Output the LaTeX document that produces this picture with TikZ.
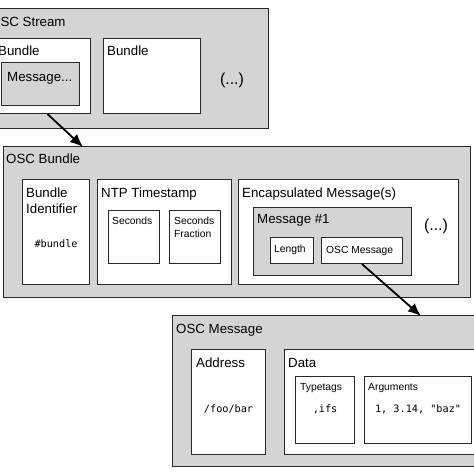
\documentclass[tikz,border=0pt]{standalone}
\usepackage{fontspec}
\setmainfont{Liberation Sans}
\newfontfamily\codefont{DejaVu Sans Mono}
\usetikzlibrary{positioning,calc}
\usetikzlibrary{arrows.meta}
\definecolor{boxgray}{RGB}{212,212,212}
\definecolor{edge}{RGB}{40,40,40}
\tikzstyle{layer} = [rectangle, draw=edge, line width=1.2pt, fill=boxgray, anchor=north west, inner sep=0pt]
\tikzstyle{field} = [rectangle, draw=edge, line width=1.1pt, fill=white, anchor=north west, inner sep=0pt]
\tikzstyle{head} = [anchor=base west, inner sep=0pt, align=left, font=\fontsize{13.3}{16}\selectfont]
\tikzstyle{subhead} = [anchor=base west, inner sep=0pt, align=left, font=\fontsize{10.3}{13}\selectfont]
\tikzstyle{code} = [anchor=base, inner sep=0pt, font=\codefont\fontsize{10.2}{12}\selectfont]
\tikzstyle{more} = [inner sep=0pt, font=\fontsize{16}{18}\selectfont]
\tikzstyle{link} = [line width=1.8pt, -{Latex[length=13pt,width=11pt]}]

\begin{document}
\begin{tikzpicture}[x=1pt, y=-1pt]
	\clip (0,0) rectangle (474,474);
	% stream
	\node (stream) at (-14,8) [layer, minimum width=282pt, minimum height=120pt] {};
	\node (streamT) at ($(stream.north west)+(4,18)$) [head] {OSC Stream};
	\node (bundleA) at (-6,38) [field, minimum width=96pt, minimum height=75pt] {};
	\node (bundleAT) at ($(bundleA.north west)+(4,17)$) [head] {Bundle};
	\node (msgA) at (1,62) [layer, minimum width=78pt, minimum height=43pt] {};
	\node (msgAT) at ($(msgA.north west)+(6,19)$) [head] {Message...};
	\node (bundleB) at (103,38) [field, minimum width=97pt, minimum height=75pt] {};
	\node (bundleBT) at ($(bundleB.north west)+(4,17)$) [head] {Bundle};
	\node (dotsA) at (232,80) [more] {(...)};
	% bundle
	\node (bundle) at (3,146) [layer, minimum width=467pt, minimum height=151pt] {};
	\node (bundleT) at ($(bundle.north west)+(3,17)$) [head] {OSC Bundle};
	\node (ident) at (22,179) [field, minimum width=67pt, minimum height=105pt] {};
	\node (identT) at ($(ident.north west)+(4,34)$) [head] {Bundle\\Identifier};
	\node (identV) at ($(ident.center)+(0,15)$) [code] {\#bundle};
	\node (ntp) at (97,179) [field, minimum width=134pt, minimum height=105pt] {};
	\node (ntpT) at ($(ntp.north west)+(4,18)$) [head] {NTP Timestamp};
	\node (sec) at (108,210) [field, minimum width=51pt, minimum height=53pt] {};
	\node (secT) at ($(sec.north west)+(4,14)$) [subhead] {Seconds};
	\node (frac) at (169,210) [field, minimum width=51pt, minimum height=53pt] {};
	\node (fracT) at ($(frac.north west)+(5,27)$) [subhead] {Seconds\\Fraction};
	\node (encap) at (238,179) [field, minimum width=220pt, minimum height=105pt] {};
	\node (encapT) at ($(encap.north west)+(4,18)$) [head] {Encapsulated Message(s)};
	\node (msgOne) at (253,207) [layer, minimum width=158pt, minimum height=68pt] {};
	\node (msgOneT) at ($(msgOne.north west)+(4,16)$) [head] {Message \#1};
	\node (len) at (270,237) [field, minimum width=43pt, minimum height=26pt] {};
	\node (lenT) at ($(len.north west)+(4,15)$) [subhead] {Length};
	\node (oscSmall) at (321,237) [field, minimum width=81pt, minimum height=26pt] {};
	\node (oscSmallT) at ($(oscSmall.north west)+(5,16)$) [subhead] {OSC Message};
	\node (dotsB) at (436,226) [more] {(...)};
	% message
	\node (message) at (172,315) [layer, minimum width=318pt, minimum height=151pt] {};
	\node (messageT) at ($(message.north west)+(4,18)$) [head] {OSC Message};
	\node (addr) at (191,349) [field, minimum width=74pt, minimum height=105pt] {};
	\node (addrT) at ($(addr.north west)+(5,18)$) [head] {Address};
	\node (addrV) at ($(addr.center)+(0,10.5)$) [code] {/foo/bar};
	\node (data) at (284,349) [field, minimum width=210pt, minimum height=105pt] {};
	\node (dataT) at ($(data.north west)+(4,18)$) [head] {Data};
	\node (types) at (295,376) [field, minimum width=59pt, minimum height=67pt] {};
	\node (typesT) at ($(types.north west)+(5,14)$) [subhead] {Typetags};
	\node (typesV) at ($(types.center)+(0,2.5)$) [code] {,ifs};
	\node (args) at (364,376) [field, minimum width=107pt, minimum height=67pt] {};
	\node (argsT) at ($(args.north west)+(4,14)$) [subhead] {Arguments};
	\node (argsV) at ($(args.center)+(0,2.5)$) [code] {1, 3.14, "baz"};
	% links
	\coordinate (msgOut) at ($(bundleA.south)+(5,0)$);
	\coordinate (bundleIn) at ($(bundle.north west)+(80,1)$);
	\coordinate (msgIn) at ($(message.north west)+(249,1)$);
	\draw[link] (msgOut) -- (bundleIn);
	\draw[link] (oscSmall.south) -- (msgIn);
\end{tikzpicture}
\end{document}
